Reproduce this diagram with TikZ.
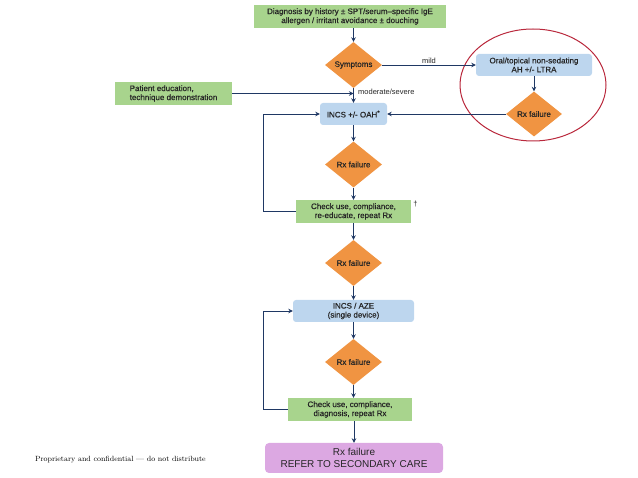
\documentclass[tikz,border=0pt]{standalone}
\usepackage{fontspec}
\setsansfont{Liberation Sans}
\newfontfamily\boxfont{Liberation Sans}[FakeBold=0.6]
\usetikzlibrary{arrows.meta,positioning,shapes.geometric}
\definecolor{boxgreen}{RGB}{168,212,141}
\definecolor{boxblue}{RGB}{189,214,238}
\definecolor{diaorange}{RGB}{240,148,66}
\definecolor{boxpink}{RGB}{220,168,226}
\definecolor{arrownavy}{RGB}{31,56,100}
\definecolor{ringred}{RGB}{185,40,60}

\begin{document}
\begin{tikzpicture}[x=1pt,y=-1pt,>={Stealth[length=4.5pt,width=4.5pt]},
 txt/.style={font=\boxfont\fontsize{8}{9}\selectfont,text=black!85,align=center,inner sep=1pt},
 greenbox/.style={txt,fill=boxgreen,minimum height=23pt},
 bluebox/.style={txt,fill=boxblue,rounded corners=3pt,minimum height=22pt},
 decision/.style={txt,diamond,fill=diaorange,minimum width=57pt,minimum height=46pt,inner sep=0pt},
 flow/.style={->,draw=arrownavy,line width=0.9pt},
 lab/.style={font=\sffamily\fontsize{7.5}{8}\selectfont,text=black!85,inner sep=1pt}]
\useasboundingbox (0,0) rectangle (638,478);
\node[greenbox,minimum width=192pt] (diag) at (350,16.5) {Diagnosis by history ± SPT/serum–specific IgE\\allergen / irritant avoidance ± douching};
\node[decision] (symp) at (353.5,65) {Symptoms};
\node[greenbox,minimum width=117pt,align=left] (edu) at (173.5,93.5) {Patient education,\\technique demonstration};
\node[bluebox,minimum width=67pt] (incs) at (353.5,114) {INCS +/- OAH\textsuperscript{*}};
\node[bluebox,minimum width=116pt] (oral) at (534,65) {Oral/topical non-sedating\\AH +/- LTRA};
\node[decision,minimum width=56pt,minimum height=45pt] (rxr) at (534,114) {Rx failure};
\draw[ringred,line width=1pt] (533,85) ellipse [x radius=73pt,y radius=56pt];
\node[decision] (rx1) at (353.5,164.5) {Rx failure};
\node[greenbox,minimum width=115pt] (chk1) at (353.5,211.5) {Check use, compliance,\\re-educate, repeat Rx};
\node[lab,anchor=north west] (dag) at ([xshift=1pt]chk1.north east) {†};
\node[decision] (rx2) at (353.5,263) {Rx failure};
\node[bluebox,minimum width=121pt] (aze) at (353.5,311) {INCS / AZE\\(single device)};
\node[decision] (rx3) at (353.5,362) {Rx failure};
\node[greenbox,minimum width=124pt] (chk2) at (350,409.5) {Check use, compliance,\\diagnosis, repeat Rx};
\node[txt,fill=boxpink,rounded corners=4pt,minimum width=178pt,minimum height=30pt,font=\sffamily\fontsize{10}{11.5}\selectfont] (refer) at (354,458) {Rx failure\\REFER TO SECONDARY CARE};
\node[font=\rmfamily\fontsize{7.5}{9}\selectfont,anchor=west,inner sep=0pt] (note) at (35,460) {Proprietary and confidential — do not distribute};
% connectors
\draw[flow] (diag.south -| symp) -- (symp);
\draw[flow] (symp) -- (incs);
\draw[flow] (edu) -- (edu -| symp);
\node[lab,anchor=west] (sevlab) at (357,92) {moderate/severe};
\draw[flow] (symp) -- node[lab,above] {mild} (oral);
\draw[flow] (oral) -- (rxr);
\draw[flow] (rxr) -- (incs);
\draw[flow] (incs) -- (rx1);
\draw[flow] (rx1) -- (chk1);
\draw[flow] (chk1.west) -- ++(-32,0) |- (incs.west);
\draw[flow] (chk1) -- (rx2);
\draw[flow] (rx2) -- (aze);
\draw[flow] (aze) -- (rx3);
\draw[flow] (rx3) -- (rx3 |- chk2.north);
\draw[flow] (chk2.west) -- ++(-24,0) |- (aze.west);
\draw[flow] (refer |- chk2.south) -- (refer);
\end{tikzpicture}
\end{document}
